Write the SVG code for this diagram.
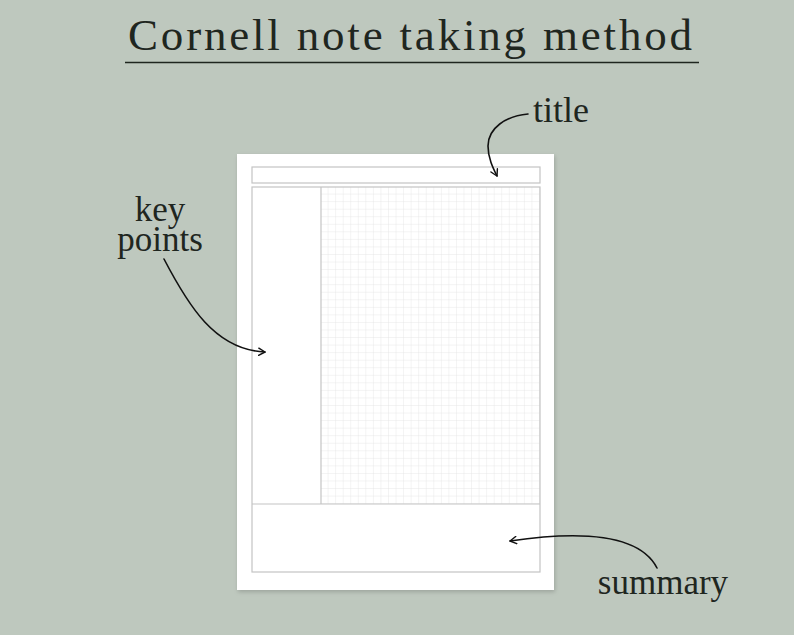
<svg xmlns="http://www.w3.org/2000/svg" width="794" height="635" viewBox="0 0 794 635">
<defs>
<style>
.lbl{font-family:"Liberation Serif","DejaVu Serif",serif;fill:#1f261f}
.arrow{fill:none;stroke:#111;stroke-width:1.6;stroke-linecap:round}
.box{fill:none;stroke:#c4c4c4;stroke-width:1.2}
.grid{stroke:#e4e4e4;stroke-width:0.8}
</style>
<marker id="ah" viewBox="0 0 10 10" refX="8" refY="5" markerWidth="9" markerHeight="9" markerUnits="userSpaceOnUse" orient="auto">
<path d="M1,1 L8,5 L1,9" fill="none" stroke="#111" stroke-width="1.6" stroke-linecap="round" stroke-linejoin="round"/>
</marker>
<filter id="sh" x="-10%" y="-10%" width="120%" height="120%">
<feDropShadow dx="1" dy="2" stdDeviation="2" flood-color="#000" flood-opacity="0.18"/>
</filter>
<pattern id="gp" x="321" y="187" width="7.55" height="7.55" patternUnits="userSpaceOnUse">
<path d="M7.55,0 V7.55 M0,7.55 H7.55" class="grid" fill="none"/>
</pattern>
</defs>
<rect width="794" height="635" fill="#bec8be"/>
<g id="heading">
<text class="lbl" x="128" y="50" font-size="45" textLength="564" lengthAdjust="spacing">Cornell note taking method</text>
<line x1="125" y1="62.5" x2="699" y2="62.5" stroke="#1f261f" stroke-width="1.5"/>
</g>
<g id="page">
<rect x="237" y="154" width="317" height="436" fill="#fff" filter="url(#sh)"/>
<rect x="321" y="187" width="219" height="317" fill="url(#gp)"/>
<rect id="title-box" class="box" x="252" y="167" width="288" height="16"/>
<rect class="box" x="252" y="187" width="288" height="385"/>
<line class="box" x1="321" y1="187" x2="321" y2="504"/>
<line class="box" x1="252" y1="504" x2="540" y2="504"/>
</g>
<g id="label-title"><text class="lbl" x="533" y="122" font-size="36">title</text></g>
<g id="label-key"><text class="lbl" x="160" y="221" font-size="35" text-anchor="middle">key</text><text class="lbl" x="160" y="251" font-size="35" text-anchor="middle">points</text></g>
<g id="label-summary"><text class="lbl" x="663" y="594" font-size="35" text-anchor="middle">summary</text></g>
<g id="connectors">
<path class="arrow" d="M528,114 C506,116 488,128 488,146 C488,158 493,168 497,176" marker-end="url(#ah)"/>
<path class="arrow" d="M164,259 C188,305 215,350 265,352" marker-end="url(#ah)"/>
<path class="arrow" d="M657,568 C640,535 585,530 510,541" marker-end="url(#ah)"/>
</g>
</svg>
